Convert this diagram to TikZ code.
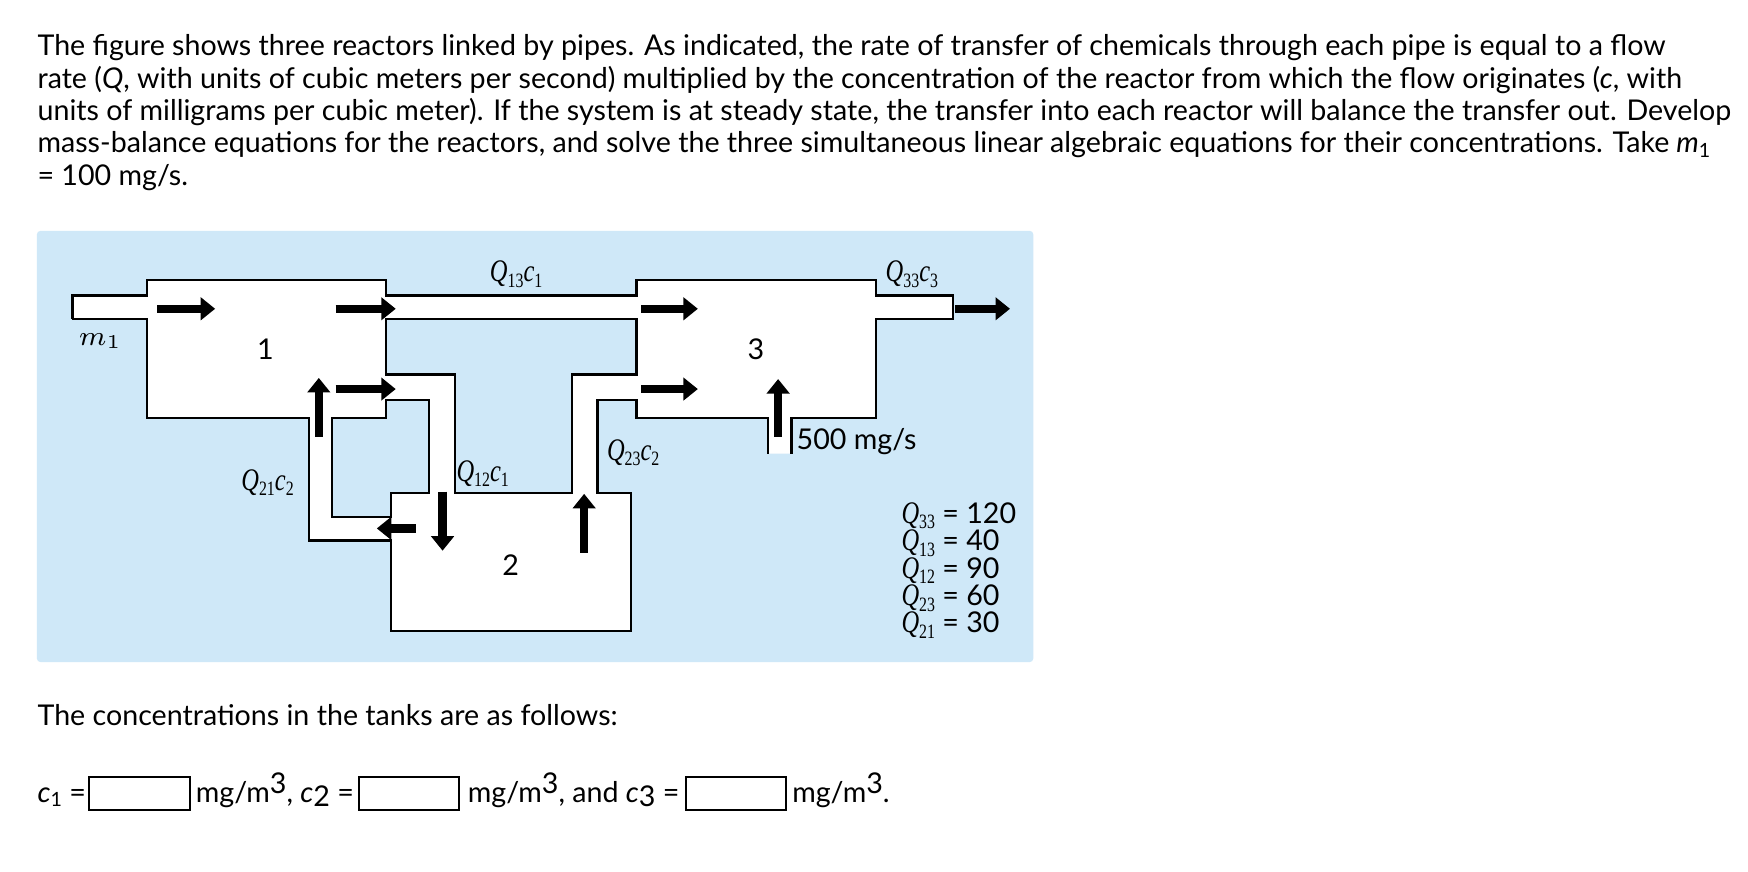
\documentclass[tikz,border=0pt]{standalone}
\usepackage{fontspec}
\setmainfont{Lato}
\newfontfamily\qfont[FakeStretch=0.78]{Liberation Serif}
\newcommand\qsym[1]{{\qfont\itshape Q}\raisebox{-0.35ex}{\qfont\fontsize{5.2}{5}\selectfont #1}}
\newcommand\csym[1]{{\qfont\itshape c}\raisebox{-0.35ex}{\qfont\fontsize{5.2}{5}\selectfont #1}}
\usetikzlibrary{arrows.meta}
\definecolor{bgblue}{HTML}{CFE8F8}
\begin{document}
\begin{tikzpicture}[x=0.01cm,y=-0.01cm,
  txt/.style={inner sep=0pt,font=\fontsize{7.3}{8.2}\selectfont},
  qlab/.style={inner sep=0pt,font=\fontsize{8}{8}\selectfont},
  wall/.style={line width=0.6pt},
  flow/.style={line width=2.1pt,-{Triangle[length=0.13cm,width=0.2cm]}},
  ansbox/.style={draw,line width=0.5pt,minimum width=0.9cm,minimum height=0.3cm,inner sep=0pt}]
\useasboundingbox (0,0) rectangle (1568,782);
\fill[white] (0,0) rectangle (1568,782);
% text
\node[txt,anchor=base west] (l1) at (33,50) {The figure shows three reactors linked by pipes. As indicated, the rate of transfer of chemicals through each pipe is equal to a flow};
\node[txt,anchor=base west] (l2) at (33,79) {rate (\textit{Q}, with units of cubic meters per second) multiplied by the concentration of the reactor from which the flow originates (\textit{c}, with};
\node[txt,anchor=base west] (l3) at (33,108) {units of milligrams per cubic meter). If the system is at steady state, the transfer into each reactor will balance the transfer out. Develop};
\node[txt,anchor=base west] (l4) at (33,137) {mass-balance equations for the reactors, and solve the three simultaneous linear algebraic equations for their concentrations. Take \textit{m}\raisebox{-0.3ex}{\fontsize{5}{5}\selectfont 1}};
\node[txt,anchor=base west] (l5) at (33,166) {= 100 mg/s.};
% blue panel
\fill[bgblue,rounded corners=1pt] (33,207) rectangle (927,594);
% white interior
\fill[white] (132,251) rectangle (346,375) (65,265) rectangle (132,286)
  (346,265) rectangle (571,286) (571,251) rectangle (786,375)
  (786,265) rectangle (855,286) (346,336) rectangle (408,359)
  (385,336) rectangle (408,442) (277,375) rectangle (298,485)
  (277,464) rectangle (351,485) (351,442) rectangle (566,566)
  (513,336) rectangle (536,442) (513,336) rectangle (571,359)
  (689,375) rectangle (710,407);
% walls
\draw[wall] (65,286)--(65,265)--(132,265)--(132,251)--(346,251)--(346,265)--(571,265)--(571,251)--(786,251)--(786,265)--(855,265)--(855,286)--(786,286)--(786,375)--(710,375)--(710,407);
\draw[wall] (689,407)--(689,375)--(571,375)--(571,359)--(536,359)--(536,442)--(566,442)--(566,566)--(351,566)--(351,485)--(277,485)--(277,375)--(132,375)--(132,286)--(65,286);
\draw[wall] (298,375)--(298,464)--(351,464)--(351,442)--(385,442)--(385,359)--(346,359)--(346,375)--cycle;
\draw[wall] (346,286)--(346,336)--(408,336)--(408,442)--(513,442)--(513,336)--(571,336)--(571,286)--cycle;
% flow arrows
\coordinate (a1s) at (141,277); \coordinate (a1e) at (193,277);
\coordinate (a2s) at (301,277); \coordinate (a2e) at (355,277);
\coordinate (a3s) at (575,277); \coordinate (a3e) at (626,277);
\coordinate (a4s) at (857,277); \coordinate (a4e) at (906,277);
\coordinate (a5s) at (301,349); \coordinate (a5e) at (355,349);
\coordinate (a6s) at (575,349); \coordinate (a6e) at (626,349);
\coordinate (a7s) at (286,392); \coordinate (a7e) at (286,339);
\coordinate (a8s) at (397,441); \coordinate (a8e) at (397,494);
\coordinate (a9s) at (524,496); \coordinate (a9e) at (524,443);
\coordinate (a10s) at (373,474); \coordinate (a10e) at (338,474);
\coordinate (a11s) at (698,392); \coordinate (a11e) at (698,340);
\foreach \i in {1,...,11}{\draw[flow] (a\i s)--(a\i e);}
% labels
\node[txt,font=\fontsize{7.5}{8}\selectfont\itshape] (m1) at (90,306) {$m_1$};
\node[txt] (t1) at (238,313) {1};
\node[txt] (t3) at (678,313) {3};
\node[txt] (t2) at (458,507) {2};
\node[qlab] (q13) at (463,246) {\qsym{13}\csym{1}};
\node[qlab] (q33) at (818,246) {\qsym{33}\csym{3}};
\node[qlab] (q21) at (240,433) {\qsym{21}\csym{2}};
\node[qlab] (q12) at (433,425) {\qsym{12}\csym{1}};
\node[qlab] (q23) at (568,406) {\qsym{23}\csym{2}};
\node[txt,anchor=west] (ms) at (714,396) {500 mg/s};
\node[txt,anchor=north west,align=left,font=\fontsize{7.3}{7.0}\selectfont] (leg) at (808,450)
 {{\fontsize{8}{8}\selectfont\qsym{33}} = 120\\ {\fontsize{8}{8}\selectfont\qsym{13}} = 40\\ {\fontsize{8}{8}\selectfont\qsym{12}} = 90\\ {\fontsize{8}{8}\selectfont\qsym{23}} = 60\\ {\fontsize{8}{8}\selectfont\qsym{21}} = 30};
% bottom
\node[txt,anchor=base west] (conc) at (33,651) {The concentrations in the tanks are as follows:};
\node[txt,anchor=base west] (c1) at (33,720) {\textit{c}\raisebox{-0.3ex}{\fontsize{5}{5}\selectfont 1} =};
\node[ansbox] (b1) at (125,712) {};
\node[txt,anchor=base west] (u1) at (175,720) {mg/m\raisebox{0.6ex}{3}, \textit{c}\raisebox{-0.3ex}{2} =};
\node[ansbox] (b2) at (367,712) {};
\node[txt,anchor=base west] (u2) at (419,720) {mg/m\raisebox{0.6ex}{3}, and \textit{c}\raisebox{-0.3ex}{3} =};
\node[ansbox] (b3) at (660,712) {};
\node[txt,anchor=base west] (u3) at (710,720) {mg/m\raisebox{0.6ex}{3}.};
\end{tikzpicture}
\end{document}
